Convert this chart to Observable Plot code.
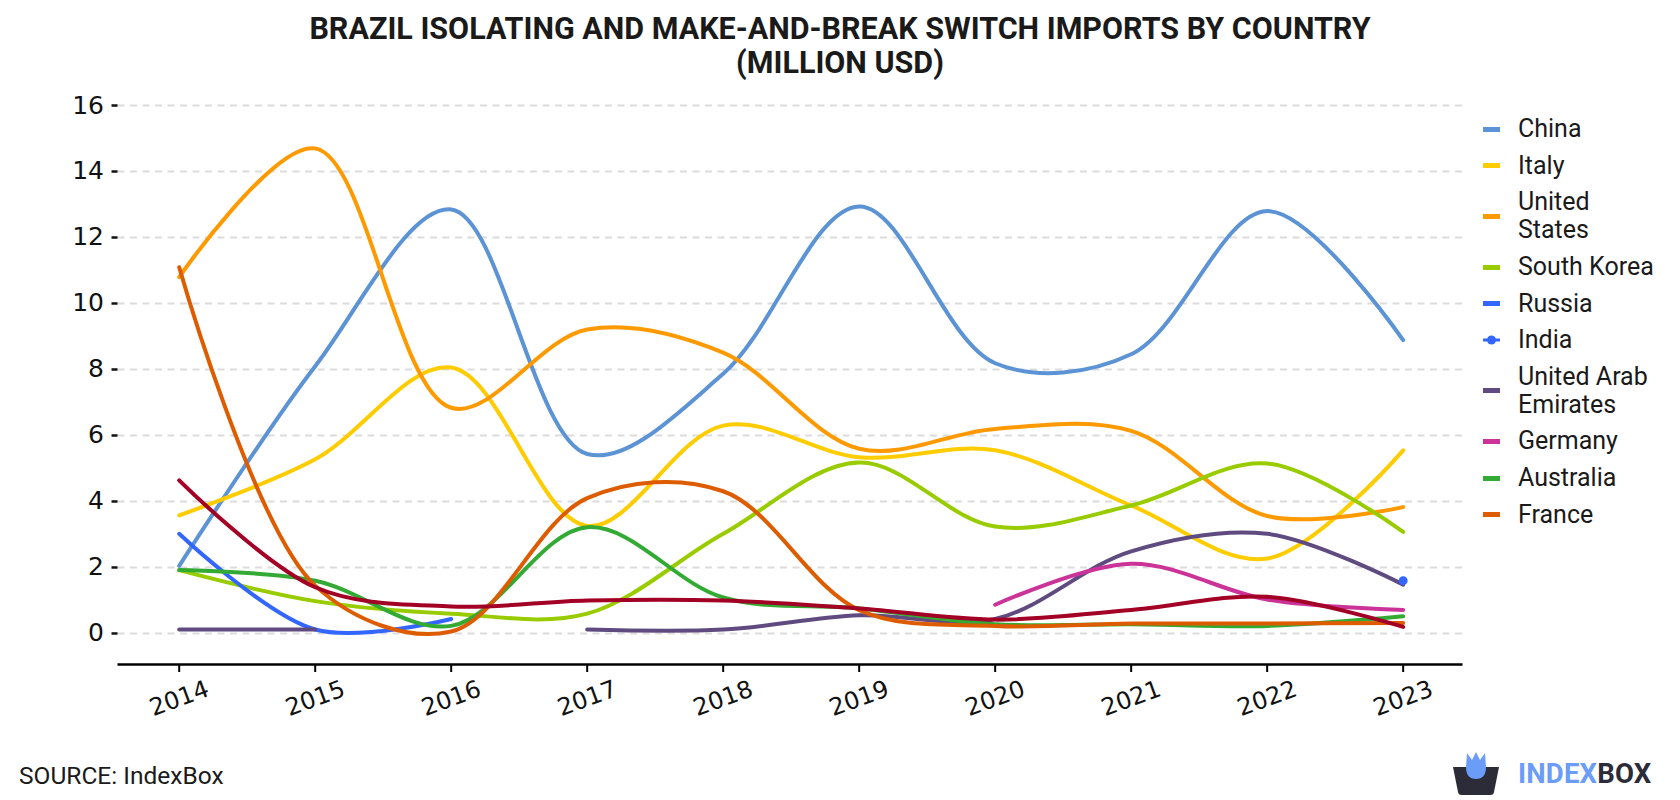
<!DOCTYPE html>
<html>
<head>
<meta charset="utf-8">
<script src="https://cdn.jsdelivr.net/npm/d3@7"></script>
<script src="https://cdn.jsdelivr.net/npm/@observablehq/plot@0.6"></script>
<style>
  html, body { margin: 0; padding: 0; background: #fff; }
  #page { position: relative; width: 1680px; height: 800px; background: #fff; overflow: hidden; font-family: Roboto, "DejaVu Sans", sans-serif; }
  #title { position: absolute; top: 12px; left: 0; width: 1680px; text-align: center; font: bold 30.5px/34px Roboto, sans-serif; color: #1a1a1a; }
  #chart { position: absolute; left: 0; top: 80px; }
  #legend { position: absolute; left: 1483px; top: 111px; font: 25px Roboto, sans-serif; color: #1a1a1a; }
  .item { display: flex; align-items: center; padding: 4.3px 0; line-height: 28px; }
  .sw { width: 17px; height: 5px; margin-right: 18px; flex: none; }
  .lbl { white-space: pre-line; }
  #source { position: absolute; left: 19px; top: 762px; font: 24.5px/28px Roboto, sans-serif; color: #1a1a1a; }
  #logo { position: absolute; left: 1451px; top: 752px; display: flex; align-items: center; }
  #logo .txt { font: bold 27.5px/30px Roboto, sans-serif; margin-left: 17px; letter-spacing: 0.2px; }
</style>
</head>
<body>
<div id="page">
  <div id="title">BRAZIL ISOLATING AND MAKE-AND-BREAK SWITCH IMPORTS BY COUNTRY<br>(MILLION USD)</div>
  <div id="chart"></div>
  <div id="legend"></div>
  <div id="source">SOURCE: IndexBox</div>
  <div id="logo">
    <svg width="50" height="44" viewBox="0 0 50 44">
      <path d="M2 15 L48 15 L43 40 Q42.5 43 39.5 43 L10.5 43 Q7.5 43 7 40 Z" fill="#2c2c38"/>
      <path d="M15 15 L16 1 L21 8 L25 0 L29 8 L34 1 L35 15 Q35 27 25 27 Q15 27 15 15 Z" fill="#6a9cf8"/>
    </svg>
    <span class="txt"><span style="color:#6a9cf8">INDEX</span><span style="color:#2c2c38">BOX</span></span>
  </div>
</div>
<script>
const years = [2014, 2015, 2016, 2017, 2018, 2019, 2020, 2021, 2022, 2023];
const yTicks = [0, 2, 4, 6, 8, 10, 12, 14, 16];
const yDomain = [-0.94, 16];
const xDomain = [2013.55, 2023.44];

const china      = [2.05, 8.1, 12.85, 5.44, 7.87, 12.94, 8.19, 8.46, 12.8, 8.89];
const italy      = [3.58, 5.28, 8.06, 3.26, 6.3, 5.34, 5.55, 3.88, 2.27, 5.55];
const usa        = [10.8, 14.7, 6.84, 9.21, 8.51, 5.6, 6.2, 6.14, 3.56, 3.83];
const southKorea = [1.92, 0.98, 0.6, 0.6, 3.02, 5.18, 3.24, 3.88, 5.15, 3.08];
const russia     = [3.02, 0.12, 0.44, null, null, null, null, null, null, null];
const india      = [null, null, null, null, null, null, null, null, null, 1.6];
const uae        = [0.12, 0.12, null, 0.12, 0.12, 0.55, 0.44, 2.49, 3.02, 1.48];
const germany    = [null, null, null, null, null, null, 0.87, 2.11, 1.03, 0.71];
const australia  = [1.92, 1.6, 0.23, 3.22, 1.09, 0.76, 0.28, 0.28, 0.23, 0.52];
const france     = [11.1, 1.45, 0.06, 4.1, 4.31, 0.71, 0.23, 0.3, 0.3, 0.32];
const others     = [4.64, 1.4, 0.82, 1.0, 1.0, 0.76, 0.42, 0.71, 1.11, 0.2];

const names  = ["China", "Italy", "United States", "South Korea", "Russia", "India", "United Arab Emirates", "Germany", "Australia", "France", "Others"];
const labels = ["China", "Italy", "United\nStates", "South Korea", "Russia", "India", "United Arab\nEmirates", "Germany", "Australia", "France"];
const colors = ["#5b93d5", "#ffcc00", "#ff9900", "#99cc00", "#3366ff", "#3366ff", "#5f4b80", "#cc3399", "#33aa33", "#de5c00", "#a30026"];
const valuesList = [china, italy, usa, southKorea, russia, india, uae, germany, australia, france, others];

const rows = names.flatMap((name, k) => years.map((year, i) => ({
  name, year, value: valuesList[k][i] == null ? NaN : valuesList[k][i]
})));
const lineRows = rows.filter(d => d.name !== "India");
const indiaRows = rows.filter(d => d.name === "India" && !isNaN(d.value));

const chart = Plot.plot({
  width: 1475,
  height: 680,
  marginLeft: 117.5,
  marginRight: 12.5,
  marginTop: 25,
  marginBottom: 96,
  style: { fontFamily: "DejaVu Sans", background: "transparent", overflow: "visible" },
  x: { domain: xDomain },
  y: { domain: yDomain },
  color: { domain: names, range: colors },
  marks: [
    Plot.ruleY(yTicks, { stroke: "#dcdcdc", strokeWidth: 2, strokeDasharray: "7,5.5" }),
    Plot.axisY({ ticks: yTicks, tickSize: 6, tickPadding: 8, fontSize: 25, strokeWidth: 2.5, label: null, tickFormat: d => String(d), color: "#111" }),
    Plot.axisX({ ticks: years, tickSize: 8, strokeWidth: 2, tickFormat: () => "", label: null }),
    Plot.ruleY([yDomain[0]], { stroke: "#000", strokeWidth: 2.5 }),
    Plot.text(years, { x: d => d, frameAnchor: "bottom", dy: 34, rotate: -20, text: d => String(d), fontSize: 24, textAnchor: "middle", lineAnchor: "middle", fill: "#111" }),
    Plot.line(lineRows, { x: "year", y: "value", z: "name", stroke: "name", strokeWidth: 4, curve: "catmull-rom", strokeLinejoin: "round" }),
    Plot.dot(indiaRows, { x: "year", y: "value", fill: "name", r: 4.5 })
  ]
});
document.getElementById("chart").appendChild(chart);

const legend = document.getElementById("legend");
labels.forEach((lab, i) => {
  const item = document.createElement("div");
  item.className = "item";
  if (names[i] === "India") {
    item.innerHTML = `<svg class="sw" style="height:12px" width="17" height="12"><line x1="0" y1="6" x2="17" y2="6" stroke="${colors[i]}" stroke-width="3"/><circle cx="8.5" cy="6" r="4.5" fill="${colors[i]}"/></svg><span class="lbl"></span>`;
  } else {
    item.innerHTML = `<span class="sw" style="background:${colors[i]}"></span><span class="lbl"></span>`;
  }
  item.querySelector(".lbl").textContent = lab;
  legend.appendChild(item);
});
</script>
</body>
</html>
